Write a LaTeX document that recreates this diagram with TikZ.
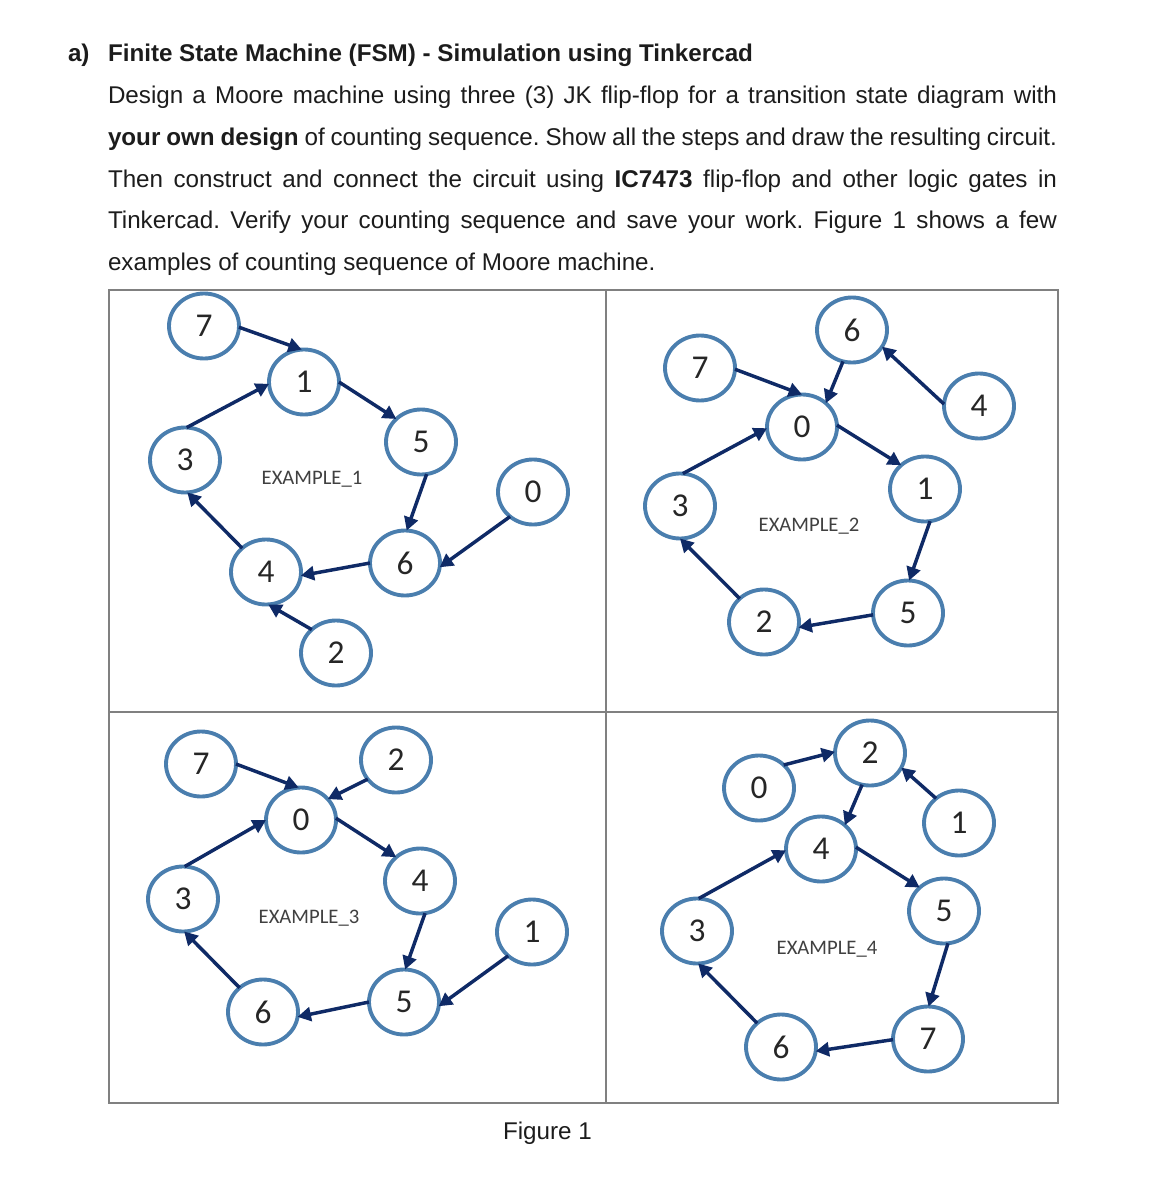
\documentclass[tikz,border=0pt]{standalone}
\usepackage{fontspec}
\setmainfont{Liberation Sans}
\newfontfamily\calib{Carlito}
\usetikzlibrary{shapes.geometric,arrows.meta}
\definecolor{ringblue}{HTML}{4A7EAE}
\definecolor{navyarrow}{HTML}{0F2A66}
\definecolor{gridgray}{HTML}{808080}
\definecolor{inktext}{HTML}{1C1C1C}
\tikzset{
  fsmnode/.style={draw=ringblue,line width=2.9pt,ellipse,fill=white,inner sep=0pt,outer sep=0pt,minimum width=52.5pt,minimum height=48.75pt,font=\calib\fontsize{25}{25}\selectfont,text=black!85},
  flowarrow/.style={draw=navyarrow,line width=2.6pt,-{Triangle[length=10pt,width=10.5pt]}},
  exlabel/.style={font=\calib\fontsize{15.5}{16}\selectfont,text=black!75,inner sep=0pt},
  bodyline/.style={anchor=base west,inner sep=0pt,outer sep=0pt,text=inktext,font=\fontsize{18.15}{20}\selectfont},
  gridline/.style={draw=gridgray,line width=0.8pt}
}
\newcommand{\just}[1]{\makebox[711.75pt][s]{\frenchspacing #1}}
\begin{document}
\begin{tikzpicture}[x=0.75pt,y=-0.75pt]
\useasboundingbox (0,0) rectangle (1170,1181);
% text
\node[bodyline] (tA) at (68,61.5) {\textbf{a)}};
\node[bodyline] (t0) at (108,61.5) {\textbf{Finite State Machine (FSM) - Simulation using Tinkercad}};
\node[bodyline] (t1) at (108,103.5) {\just{Design a Moore machine using three (3) JK flip-flop for a transition state diagram with}};
\node[bodyline] (t2) at (108,145.5) {\just{\textbf{your own design} of counting sequence. Show all the steps and draw the resulting circuit.}};
\node[bodyline] (t3) at (108,187.5) {\just{Then construct and connect the circuit using \textbf{IC7473} flip-flop and other logic gates in}};
\node[bodyline] (t4) at (108,228.5) {\just{Tinkercad. Verify your counting sequence and save your work. Figure 1 shows a few}};
\node[bodyline] (t5) at (108,270.5) {examples of counting sequence of Moore machine.};
\node[bodyline] (fig) at (503,1139) {Figure 1};
% grid
\draw[gridline] (109,290) rectangle (1058,1103);
\draw[gridline] (606,290) -- (606,1103);
\draw[gridline] (109,712) -- (1058,712);
% example 1
\node[exlabel] (ex1) at (312,479) {EXAMPLE\_1};
\node[fsmnode] (a7) at (204,326) {7};
\node[fsmnode] (a1) at (304,382) {1};
\node[fsmnode] (a3) at (185,460) {3};
\node[fsmnode] (a5) at (421,442) {5};
\node[fsmnode] (a0) at (533,492) {0};
\node[fsmnode] (a6) at (405,563) {6};
\node[fsmnode] (a4) at (266,572) {4};
\node[fsmnode] (a2) at (336,653) {2};
\draw[flowarrow] (a7.-2) -- (a1.94);
\draw[flowarrow] (a3.87) -- (a1.183);
\draw[flowarrow] (a1.0) -- (a5.137);
\draw[flowarrow] (a5.-80) -- (a6.87);
\draw[flowarrow] (a0.227) -- (a6.-7);
\draw[flowarrow] (a6.180) -- (a4.-6);
\draw[flowarrow] (a4.135) -- (a3.-86);
\draw[flowarrow] (a2.136) -- (a4.-86);
% example 2
\node[exlabel] (ex2) at (809,526) {EXAMPLE\_2};
\node[fsmnode] (b7) at (700,368) {7};
\node[fsmnode] (b6) at (852,330) {6};
\node[fsmnode] (b4) at (979,406) {4};
\node[fsmnode] (b0) at (802,427) {0};
\node[fsmnode] (b1) at (925,489) {1};
\node[fsmnode] (b3) at (680,506) {3};
\node[fsmnode] (b5) at (908,613) {5};
\node[fsmnode] (b2) at (764,622) {2};
\draw[flowarrow] (b7.-2) -- (b0.90);
\draw[flowarrow] (b6.254) -- (b0.45);
\draw[flowarrow] (b4.177) -- (b6.-29);
\draw[flowarrow] (b0.3) -- (b1.135);
\draw[flowarrow] (b1.-81) -- (b5.88);
\draw[flowarrow] (b5.183) -- (b2.-9);
\draw[flowarrow] (b2.136) -- (b3.-90);
\draw[flowarrow] (b3.85) -- (b0.182);
% example 3
\node[exlabel] (ex3) at (309,918) {EXAMPLE\_3};
\node[fsmnode] (c7) at (201,764) {7};
\node[fsmnode] (c2) at (396,760) {2};
\node[fsmnode] (c0) at (301,820) {0};
\node[fsmnode] (c4) at (420,881) {4};
\node[fsmnode] (c3) at (183,899) {3};
\node[fsmnode] (c1) at (532,932) {1};
\node[fsmnode] (c5) at (404,1002) {5};
\node[fsmnode] (c6) at (263,1012) {6};
\draw[flowarrow] (c7.0) -- (c0.94);
\draw[flowarrow] (c2.214) -- (c0.38);
\draw[flowarrow] (c0.3) -- (c4.135);
\draw[flowarrow] (c4.-81) -- (c5.88);
\draw[flowarrow] (c1.225) -- (c5.-7);
\draw[flowarrow] (c5.180) -- (c6.-8);
\draw[flowarrow] (c6.134) -- (c3.-88);
\draw[flowarrow] (c3.87) -- (c0.180);
% example 4
\node[exlabel] (ex4) at (827,949) {EXAMPLE\_4};
\node[fsmnode] (d0) at (759,788) {0};
\node[fsmnode] (d2) at (870,753) {2};
\node[fsmnode] (d1) at (959,823) {1};
\node[fsmnode] (d4) at (821,849) {4};
\node[fsmnode] (d5) at (944,911) {5};
\node[fsmnode] (d3) at (697,931) {3};
\node[fsmnode] (d7) at (928,1039) {7};
\node[fsmnode] (d6) at (781,1047) {6};
\draw[flowarrow] (d0.43) -- (d2.178);
\draw[flowarrow] (d1.133) -- (d2.-25);
\draw[flowarrow] (d2.256) -- (d4.45);
\draw[flowarrow] (d4.3) -- (d5.136);
\draw[flowarrow] (d5.-83) -- (d7.89);
\draw[flowarrow] (d7.181) -- (d6.-7);
\draw[flowarrow] (d6.135) -- (d3.-88);
\draw[flowarrow] (d3.87) -- (d4.182);
\end{tikzpicture}
\end{document}
